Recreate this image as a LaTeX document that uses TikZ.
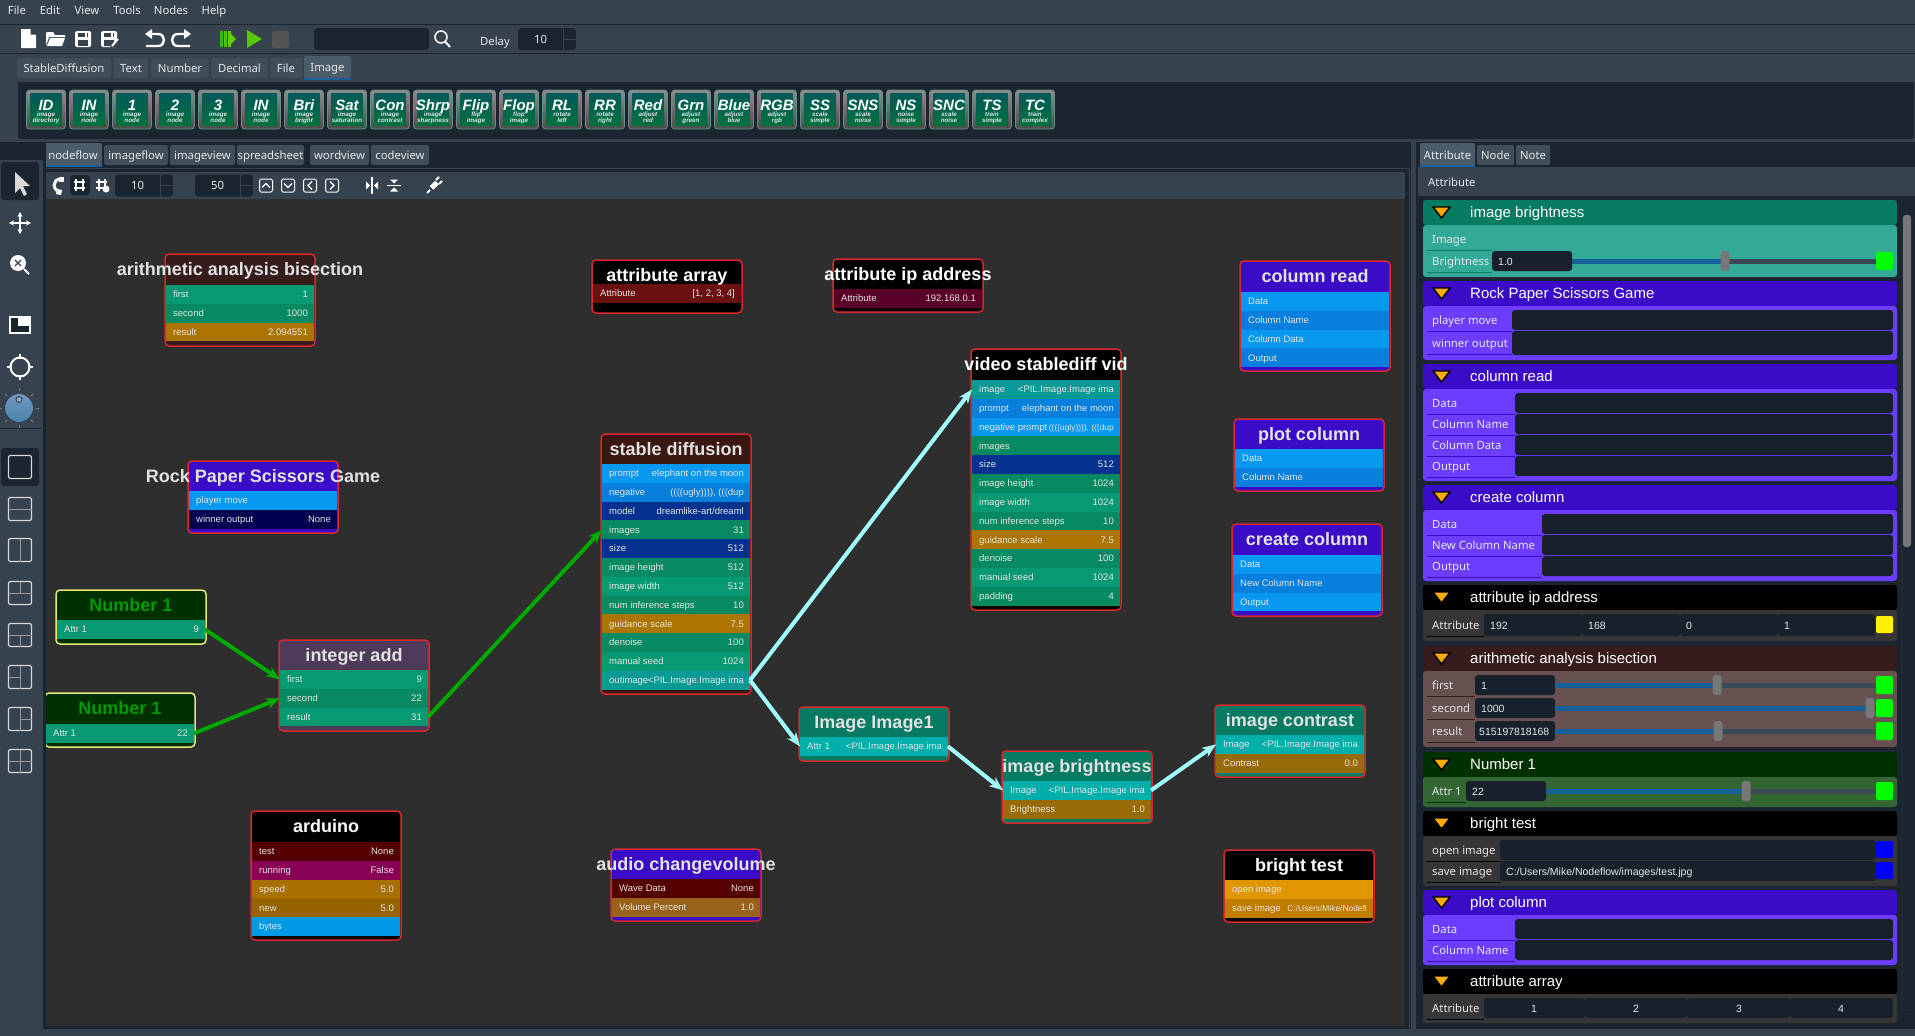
\documentclass[tikz,border=0pt]{standalone}
\usepackage{fontspec}
\setmainfont{Liberation Sans}
\newfontfamily\uif{Noto Sans}
\usetikzlibrary{arrows.meta,calc}
\definecolor{uibg}{HTML}{36434F}
\definecolor{uidk}{HTML}{1A252F}
\definecolor{uitxt}{HTML}{E4E8EC}
\definecolor{uiact}{HTML}{4C5B68}
\definecolor{uiblu}{HTML}{1A5F9E}
\definecolor{canv}{HTML}{2E2E2E}
\definecolor{bred}{HTML}{D9282E}
\definecolor{numyel}{HTML}{E8E878}
\definecolor{hTeal}{HTML}{077A62}
\definecolor{hPur}{HTML}{3A0CC8}
\definecolor{hBrn}{HTML}{361C1C}
\definecolor{hSd}{HTML}{3A1710}
\definecolor{hNum}{HTML}{003000}
\definecolor{hAdd}{HTML}{503A5A}
\definecolor{numt}{HTML}{009A00}
\definecolor{ttl}{HTML}{E2E2E2}
\definecolor{rG}{HTML}{079A72}
\definecolor{rGd}{HTML}{078A62}
\definecolor{rO}{HTML}{AC7500}
\definecolor{rB}{HTML}{0898F0}
\definecolor{rBd}{HTML}{0680DC}
\definecolor{rNv}{HTML}{05328E}
\definecolor{rDk}{HTML}{000050}
\definecolor{rTe}{HTML}{0A9A96}
\definecolor{rCy}{HTML}{00AEAA}
\definecolor{rOd}{HTML}{976C08}
\definecolor{rMar}{HTML}{550000}
\definecolor{rMag}{HTML}{880055}
\definecolor{rAr}{HTML}{A87000}
\definecolor{rArd}{HTML}{976300}
\definecolor{rByt}{HTML}{0099E5}
\definecolor{rAa}{HTML}{6A1010}
\definecolor{rIp}{HTML}{5A0028}
\definecolor{rVol}{HTML}{98621A}
\definecolor{rOp}{HTML}{E09600}
\definecolor{rSv}{HTML}{C07C00}
\definecolor{cong}{HTML}{00A800}
\definecolor{conc}{HTML}{A0FFFF}
\definecolor{pTeal}{HTML}{33AA96}
\definecolor{pPur}{HTML}{6C3CFF}
\definecolor{pGr}{HTML}{363636}
\definecolor{pBr}{HTML}{665050}
\definecolor{pNum}{HTML}{336633}
\definecolor{inpc}{HTML}{17202B}
\definecolor{trio}{HTML}{FFAA00}
\definecolor{trk}{HTML}{3A4A55}
\definecolor{sldb}{HTML}{146298}
\definecolor{hnd}{HTML}{777777}
\definecolor{knob}{HTML}{5A85B5}
\tikzset{
  uil/.style={inner sep=0pt,anchor=base west,text=uitxt,font=\uif\fontsize{11.3}{14}\selectfont},
  uic/.style={inner sep=0pt,anchor=base,text=uitxt,font=\uif\fontsize{11.3}{14}\selectfont},
  vall/.style={inner sep=0pt,anchor=base west,text=uitxt,font=\fontsize{10.5}{12}\selectfont},
  valc/.style={inner sep=0pt,anchor=base,text=uitxt,font=\fontsize{10.5}{12}\selectfont},
  sechd/.style={inner sep=0pt,anchor=base west,text=white,font=\fontsize{15}{17}\selectfont},
  plab/.style={inner sep=0pt,anchor=base west,text=uitxt,font=\uif\fontsize{11.3}{14}\selectfont},
  rowbx/.style={inner sep=0pt,outer sep=0pt,anchor=north west,minimum width=148pt,minimum height=18.8pt},
  rowl/.style={inner sep=0pt,anchor=base west,text=white!90!black,font=\fontsize{9.5}{12}\selectfont},
  rowr/.style={inner sep=0pt,anchor=base east,text=white!90!black,font=\fontsize{9.5}{12}\selectfont},
  gttl/.style={inner sep=0pt,anchor=base,font=\bfseries\fontsize{18}{20}\selectfont},
  gbox/.style={inner sep=0pt,outer sep=0pt,anchor=north west,minimum width=150pt,rounded corners=4pt},
  conG/.style={draw=cong,line width=4pt,-{Stealth[length=14pt,width=11pt]}},
  conC/.style={draw=conc,line width=4pt,-{Stealth[length=14pt,width=11pt]}},
  btnbig/.style={inner sep=0pt,anchor=base,text=white,font=\bfseries\itshape\fontsize{15}{16}\selectfont},
  btnsm/.style={inner sep=0pt,anchor=base,text=white!90!black,font=\bfseries\itshape\fontsize{6.3}{7}\selectfont},
  ico/.style={white,line width=1.3pt},
}
\newcount\nn
\newcommand{\txt}[4]{\global\advance\nn by 1 \node[#1] (tx\the\nn) at (#2,#3) {#4}}
\def\mc{,}
\def\sls{/}
\def\gbd{bred}
\newcommand{\sqz}[1]{{\fontsize{8.4}{10}\selectfont #1}}
% name,x,y,h,T,header,titlecolor,title,rows
\newcommand{\gnode}[9]{%
  \node[gbox,fill=#6,minimum height=#4pt] (#1) at (#2,#3) {};
  \foreach \rc/\rl/\rv [count=\ri] in {#9}{%
    \pgfmathsetmacro\ry{#3+#5+(\ri-1)*18.8}
    \node[rowbx,fill=\rc] (#1-\ri) at (#2+1,\ry) {};
    \node[rowl] (#1-\ri-l) at (#2+8,\ry+12.6) {\rl};
    \node[rowr] (#1-\ri-r) at (#2+143,\ry+12.6) {\rv};
  }
  \draw[\gbd,line width=1.5pt,rounded corners=4pt] (#1.north west) rectangle (#1.south east);
  \node[gttl,text=#7] (#1-t) at (#2+75,#3+21) {#8};
}
\newcommand{\pnlsec}[5]{% y,hdr,body,bottom,title
  \fill[#2,rounded corners=3pt] (1423,#1) rectangle (1897,#1+25);
  \fill[#3,rounded corners=3pt] (1423,#1+25) rectangle (1897,#4);
  \draw[fill=trio,draw=black,line width=1.4pt] (1433,#1+7) -- (1450,#1+7) -- (1441.5,#1+18) -- cycle;
  \txt{sechd}{1470}{#1+17.5}{#5};
}
\newcommand{\plb}[4]{% yc,text,xend,linecolor
  \txt{plab}{1432}{#1+3.5}{#2};
  \draw[#4,line width=.8pt] (1427,#1+10) -- (#3,#1+10);
}
\newcommand{\pinput}[4]{\fill[inpc,rounded corners=3pt] (#1,#3) rectangle (#2,#4);}
\newcommand{\pslide}[4]{% x1,hx,yc,squarecolor
  \fill[trk] (#1,#3-2.5) rectangle (1876,#3+2.5);
  \fill[sldb] (#1,#3-2.5) rectangle (#2,#3+2.5);
  \fill[hnd,rounded corners=3pt] (#2-4.5,#3-10) rectangle (#2+4.5,#3+10);
  \fill[#4,rounded corners=2pt] (1876,#3-9) rectangle (1893,#3+9);
}
\newcommand{\layicon}[2]{%
  \draw[white!85!black,line width=1.2pt,rounded corners=2pt] (8.5,#1-11.5) rectangle (31.5,#1+11.5);
  \foreach \xa/\ya/\xb/\yb in {#2}{\draw[white!60!black,line width=1pt] (\xa,#1+\ya) -- (\xb,#1+\yb);}
}
\newcommand{\spin}[5]{% x1,x2,sepx,yc,text
  \fill[uidk,rounded corners=3pt] (#1,#4-11) rectangle (#2,#4+11);
  \draw[uibg,line width=1pt] (#3,#4-11) -- (#3,#4+11) (#3,#4) -- (#2,#4);
  \pgfmathsetmacro\tmx{(#1+#3)/2}
  \txt{uic}{\tmx}{#4+4}{#5};
}
\newcommand{\tabb}[6]{% x1,x2,y1,y2,color,text
  \fill[#5,rounded corners=2pt] (#1,#3) rectangle (#2,#4);
  \pgfmathsetmacro\tmx{(#1+#2)/2}
  \pgfmathsetmacro\tmy{(#3+#4)/2+4}
  \txt{uic}{\tmx}{\tmy}{#6};
}
\newcommand{\chev}[2]{\draw[ico,line width=1pt,rounded corners=1.5pt] (#1-6.5,179) rectangle (#1+6.5,192); \draw[ico,line width=1.1pt] #2;}
\newcommand{\floppy}[1]{%
  \fill[white,rounded corners=1.5pt] (#1,31) rectangle (#1+16,47);
  \fill[uibg] (#1+3,32.5) rectangle (#1+13,37);
  \fill[uibg] (#1+3,40) rectangle (#1+13,45.5);
  \fill[white] (#1+9.5,33) rectangle (#1+12,36.5);
}
\begin{document}
\begin{tikzpicture}[x=1pt,y=-1pt]
\useasboundingbox (0,0) rectangle (1915,1036);
\fill[uibg] (0,0) rectangle (1915,1036);
% separators
\fill[uidk] (0,24) rectangle (1915,25);
\fill[uidk] (0,53) rectangle (1915,54);
% dark bodies
\fill[uidk] (0,142) rectangle (1915,1029);
\fill[uibg] (0,139) rectangle (1915,142);
\fill[uidk,rounded corners=2pt] (18,82) rectangle (1914,139);
% menu
\txt{uic}{17}{14}{File};
\txt{uic}{50}{14}{Edit};
\txt{uic}{87}{14}{View};
\txt{uic}{127}{14}{Tools};
\txt{uic}{171}{14}{Nodes};
\txt{uic}{214}{14}{Help};
% file toolbar icons
\fill[white] (21,29) -- (30,29) -- (36,35) -- (36,48) -- (21,48) -- cycle;
\fill[uibg] (30.5,29) -- (30.5,34.5) -- (36,34.5) -- cycle;
\fill[white] (46,33) -- (46,46) -- (49,37) -- (65,37) -- (65,35) -- (55,35) -- (53,32) -- (47,32) -- cycle;
\fill[white] (50,38) -- (65,38) -- (62,46) -- (47,46) -- cycle;
\floppy{75}
\floppy{101}
\fill[uibg] (110,47) -- (120,36) -- (120,47) -- cycle;
\draw[white,line width=2pt] (112,46) -- (118,39);
\draw[white,line width=2.4pt] (151,34) -- (158,34) .. controls (166,34) and (166,46) .. (158,46) -- (146,46);
\fill[white] (145,34) -- (152,29) -- (152,39) -- cycle;
\draw[white,line width=2.4pt] (185,34) -- (178,34) .. controls (170,34) and (170,46) .. (178,46) -- (190,46);
\fill[white] (191,34) -- (184,29) -- (184,39) -- cycle;
\fill[cong!80!yellow] (220,31) rectangle (222.5,47);
\fill[cong!70!yellow] (224,31) rectangle (226.5,47);
\fill[cong!60!yellow] (228,31) rectangle (230.5,47);
\fill[cong!60!yellow] (231,34) -- (236,39) -- (231,44) -- cycle;
\fill[cong!65!yellow] (247,30) -- (262,39) -- (247,48) -- cycle;
\fill[white!33!black,rounded corners=2pt] (272,31) rectangle (289,48);
\fill[uidk,rounded corners=3pt] (314,28) rectangle (429,50);
\draw[white,line width=1.5pt] (441,37) circle[radius=6pt];
\draw[white,line width=2pt] (445.5,42) -- (450,47);
\txt{uic}{495}{45}{Delay};
\spin{518}{576}{563}{39}{10}
% category tabs
\tabb{17}{111}{58}{78}{uiact!45!uibg}{StableDiffusion}
\tabb{114}{148}{58}{78}{uiact!45!uibg}{Text}
\tabb{151}{209}{58}{78}{uiact!45!uibg}{Number}
\tabb{211}{268}{58}{78}{uiact!45!uibg}{Decimal}
\tabb{270}{302}{58}{78}{uiact!45!uibg}{File}
\tabb{304}{351}{56}{78}{uiact}{Image}
\fill[uiblu] (304,78) rectangle (351,80);
% buttons
\foreach \lab/\aa/\bb [count=\i] in {ID/image/directory,IN/image/node,1/image/node,2/image/node,3/image/node,IN/image/node,Bri/image/bright,Sat/image/saturation,Con/image/contrast,Shrp/image/sharpness,Flip/flip/image,Flop/flop/image,RL/rotate/left,RR/rotate/right,Red/adjust/red,Grn/adjust/green,Blue/adjust/blue,RGB/adjust/rgb,SS/scale/simple,SNS/scale/noise,NS/noise/simple,SNC/scale/noise,TS/train/simple,TC/train/complex}{
  \pgfmathsetmacro\bx{26.5+43*(\i-1)}
  \draw[draw=black!50!teal!60!white,top color=white!55!black,bottom color=black!70!white,rounded corners=3pt,line width=.8pt] (\bx,90) rectangle (\bx+39,129);
  \fill[top color=teal!70!black,bottom color=teal!60!black!80!green] (\bx+4,93.5) rectangle (\bx+35,125.5);
  \txt{btnbig}{\bx+19.5}{110}{\lab};
  \txt{btnsm}{\bx+19.5}{116.5}{\aa};
  \txt{btnsm}{\bx+19.5}{122.5}{\bb};
}
% view tabs
\tabb{44}{102}{143}{167}{uiact}{nodeflow}
\fill[uiblu] (44,165) rectangle (102,167);
\tabb{104}{168}{145}{165}{uiact!45!uibg}{imageflow}
\tabb{170}{235}{145}{165}{uiact!45!uibg}{imageview}
\tabb{237}{304}{145}{165}{uiact!45!uibg}{spreadsheet}
\tabb{310}{369}{145}{165}{uiact!45!uibg}{wordview}
\tabb{371}{429}{145}{165}{uiact!45!uibg}{codeview}
\draw[uibg,line width=.8pt] (43,168) -- (1409,168) -- (1409,1029);
% canvas toolbar
\fill[uibg,rounded corners=2pt] (46,172) rectangle (1405,199);
\draw[white,line width=3pt] (61,179) .. controls (52,179) and (52,190) .. (60,192);
\fill[white] (59,177) -- (64,177) -- (64,182) -- (59,182) -- cycle;
\fill[white] (57,189) -- (62,190) -- (61,195) -- (56,194) -- cycle;
\fill[uidk,rounded corners=3pt] (70,175) rectangle (90,195);
\draw[white,line width=1.7pt] (76,179) -- (76,191) (83,179) -- (83,191) (74,182) -- (85,182) (74,188) -- (85,188);
\draw[white,line width=1.7pt] (99,179) -- (99,191) (105,179) -- (105,191) (96,182) -- (107,182) (96,188) -- (107,188);
\fill[white] (106,189) circle[radius=3.5pt];
\spin{115}{173}{160}{185.5}{10}
\spin{195}{253}{240}{185.5}{50}
\chev{266}{(262,187.5) -- (266,183.5) -- (270,187.5)}
\chev{288}{(284,183.5) -- (288,187.5) -- (292,183.5)}
\chev{310}{(312,181.5) -- (308,185.5) -- (312,189.5)}
\chev{332}{(330,181.5) -- (334,185.5) -- (330,189.5)}
\draw[white,line width=1.2pt] (372,177) -- (372,194);
\fill[white] (370,185.5) -- (366,181.5) -- (366,189.5) -- cycle;
\fill[white] (374,185.5) -- (378,181.5) -- (378,189.5) -- cycle;
\draw[white,line width=1.2pt] (387,185.5) -- (401,185.5);
\fill[white] (394,183.5) -- (390,179.5) -- (398,179.5) -- cycle;
\fill[white] (394,187.5) -- (390,191.5) -- (398,191.5) -- cycle;
\draw[white,line width=5pt] (431.5,188) -- (437,182.5);
\draw[white,line width=1.8pt] (430,190) -- (427,193) (436,180) -- (439,177) (439,184) -- (442,181);
% canvas
\fill[canv] (46,199) rectangle (1405,1026);
% graph nodes
\gnode{arith}{165}{254}{92}{31}{hBrn}{ttl}{arithmetic analysis bisection}{rG/first/1,rGd/second/1000,rO/result/2.094551}
\gnode{rock}{188}{461}{72}{30}{hPur}{ttl}{Rock Paper Scissors Game}{rB/player move/{},rDk/winner output/None}
\def\gbd{numyel}
\gnode{numa}{56}{590}{54}{30}{hNum}{numt}{Number 1}{rG/Attr 1/9}
\gnode{numb}{45}{693}{54}{31}{hNum}{numt}{Number 1}{rG/Attr 1/22}
\def\gbd{bred}
\gnode{add}{279}{640}{91}{30}{hAdd}{ttl}{integer add}{rG/first/9,rGd/second/22,rG/result/31}
\gnode{ard}{251}{811}{129}{31}{black}{white}{arduino}{rMar/test/None,rMag/running/False,rAr/speed/5.0,rArd/new/5.0,rByt/bytes/{}}
\gnode{arr}{592}{260}{53}{24}{black}{white}{attribute array}{rAa/Attribute/[1\mc\ 2\mc\ 3\mc\ 4]}
\gnode{ip}{833}{259}{53}{30}{black}{white}{attribute ip address}{rIp/Attribute/192.168.0.1}
\gnode{sd}{601}{434}{260}{30}{hSd}{ttl}{stable diffusion}{rB/prompt/elephant on the moon,rBd/negative/((((ugly))))\mc\ (((dup,rNv/model/dreamlike-art\sls dreaml,rGd/images/31,rNv/size/512,rGd/image height/512,rG/image width/512,rGd/num inference steps/10,rO/guidance scale/7.5,rGd/denoise/100,rG/manual seed/1024,rTe/outimage/<PIL.Image.Image ima}
\gnode{vid}{971}{349}{261}{31}{black}{white}{video stablediff vid}{rTe/image/<PIL.Image.Image ima,rBd/prompt/elephant on the moon,rB/negative prompt/\sqz{((((ugly))))\mc\ (((dup},rGd/images/{},rNv/size/512,rGd/image height/1024,rG/image width/1024,rGd/num inference steps/10,rO/guidance scale/7.5,rGd/denoise/100,rG/manual seed/1024,rGd/padding/4}
\gnode{colr}{1240}{261}{110}{31}{hPur}{ttl}{column read}{rB/Data/{},rBd/Column Name/{},rB/Column Data/{},rBd/Output/{}}
\gnode{plot}{1234}{419}{72}{30}{hPur}{ttl}{plot column}{rB/Data/{},rBd/Column Name/{}}
\gnode{crea}{1232}{524}{92}{31}{hPur}{ttl}{create column}{rB/Data/{},rBd/New Column Name/{},rB/Output/{}}
\gnode{img}{799}{707}{54}{30}{hTeal}{ttl}{Image Image1}{rCy/Attr 1/<PIL.Image.Image ima}
\gnode{bri}{1002}{751}{72}{30}{hTeal}{ttl}{image brightness}{rCy/Image/<PIL.Image.Image ima,rOd/Brightness/1.0}
\gnode{con}{1215}{705}{72}{30}{hTeal}{ttl}{image contrast}{rCy/Image/<PIL.Image.Image ima,rOd/Contrast/0.0}
\gnode{aud}{611}{849}{72}{30}{hPur}{ttl}{audio changevolume}{rMar/Wave Data/None,rVol/Volume Percent/1.0}
\gnode{brt}{1224}{850}{72}{30}{black}{white}{bright test}{rOp/open image/{},rSv/save image/\sqz{C:\sls Users\sls Mike\sls Nodefl}}
% connectors
\draw[conG] (numa-1.east) -- (add-1.west);
\draw[conG] (numb-1.east) -- (add-2.west);
\draw[conG] (add-3.east) -- (sd-4.west);
\draw[conC] (sd-12.east) -- (vid-1.west);
\draw[conC] (sd-12.east) -- (img-1.west);
\draw[conC] (img-1.east) -- (bri-1.west);
\draw[conC] (bri-1.east) -- (con-1.west);
% left tool bar
\fill[uidk] (0,142) rectangle (46,1029);
\fill[uibg] (0,160) rectangle (43,1029);
\fill[uidk,rounded corners=3pt] (1,162) rectangle (39,200);
\fill[white!85!black] (15,172) -- (15,193) -- (20,188) -- (24,196) -- (27,194) -- (23,186) -- (30,186) -- cycle;
\draw[white,line width=1.4pt,{Stealth[length=5pt,width=5pt]}-{Stealth[length=5pt,width=5pt]}] (9,223) -- (31,223);
\draw[white,line width=1.4pt,{Stealth[length=5pt,width=5pt]}-{Stealth[length=5pt,width=5pt]}] (20,212) -- (20,234);
\fill[white] (18,263) circle[radius=8pt];
\draw[uibg,line width=1.3pt] (15,260) -- (21,266) (21,260) -- (15,266);
\draw[white,line width=2pt] (24,269) -- (29,274);
\draw[white,fill=uidk,line width=1.4pt] (10,317) rectangle (30,333);
\fill[white] (18,317) rectangle (30,326);
\draw[white,line width=2pt] (20,367) circle[radius=9.5pt];
\draw[white,line width=2pt] (20,354) -- (20,359) (20,375) -- (20,380) (7,367) -- (12,367) (28,367) -- (33,367);
\foreach \aa in {0,45,...,315}{\draw[white!50!black,line width=.8pt] ($(19,408)+(\aa:17pt)$) -- ($(19,408)+(\aa:20pt)$);}
\fill[top color=knob!85!white,bottom color=knob!80!teal] (19,408) circle[radius=14pt];
\draw[uibg,fill=knob!70!white,line width=1pt] (19,399.5) circle[radius=3pt];
\fill[uidk] (0,428) rectangle (42,429);
\fill[uidk,rounded corners=3pt] (1,448) rectangle (39,486);
\layicon{467}{}
\layicon{509}{8.5/0/31.5/0}
\layicon{550}{20/-11.5/20/11.5}
\layicon{593}{8.5/0/31.5/0,20/-11.5/20/0}
\layicon{635}{8.5/0/31.5/0,20/0/20/11.5}
\layicon{677}{20/-11.5/20/11.5,8.5/0/20/0}
\layicon{719}{20/-11.5/20/11.5,20/0/31.5/0}
\layicon{761}{20/-11.5/20/11.5,8.5/0/31.5/0}
% right panel
\fill[uibg] (1411,142) rectangle (1416,1029);
\fill[uidk] (1416,142) rectangle (1915,1029);
\tabb{1420}{1475}{143}{167}{uiact}{Attribute}
\fill[uiblu] (1420,165) rectangle (1475,167);
\tabb{1477}{1514}{145}{165}{uiact!45!uibg}{Node}
\tabb{1516}{1550}{145}{165}{uiact!45!uibg}{Note}
\fill[uibg] (1418,167) rectangle (1915,196);
\txt{uil}{1428}{186}{Attribute};
\draw[uidk!70!uibg,line width=1pt,rounded corners=3pt] (1902,215) rectangle (1913,1010);
\fill[hnd,rounded corners=3pt] (1903,215) rectangle (1911,547);
% image brightness
\pnlsec{200}{hTeal}{pTeal}{277}{image brightness}
\plb{240}{Image}{1492}{hTeal}
\plb{262}{Brightness}{1492}{hTeal}
\pinput{1492}{1572}{251}{271}
\txt{vall}{1498}{265}{1.0};
\pslide{1572}{1725}{261}{green}
% rock
\pnlsec{281}{hPur}{pPur}{360}{Rock Paper Scissors Game}
\plb{321}{player move}{1512}{hPur}
\plb{344}{winner output}{1512}{hPur}
\pinput{1512}{1893}{310}{330}
\pinput{1512}{1893}{331}{355}
% column read
\pnlsec{364}{hPur}{pPur}{481}{column read}
\plb{404}{Data}{1515}{hPur}
\plb{425}{Column Name}{1515}{hPur}
\plb{446}{Column Data}{1515}{hPur}
\plb{467}{Output}{1515}{hPur}
\pinput{1515}{1893}{393}{413}
\pinput{1515}{1893}{414}{434}
\pinput{1515}{1893}{435}{455}
\pinput{1515}{1893}{456}{476}
% create column
\pnlsec{485}{hPur}{pPur}{581}{create column}
\plb{525}{Data}{1542}{hPur}
\plb{546}{New Column Name}{1542}{hPur}
\plb{567}{Output}{1542}{hPur}
\pinput{1542}{1893}{514}{534}
\pinput{1542}{1893}{535}{555}
\pinput{1542}{1893}{556}{576}
% attribute ip
\pnlsec{585}{black}{pGr}{641}{attribute ip address}
\plb{626}{Attribute}{1484}{black}
\pinput{1484}{1582}{614}{636}
\pinput{1582}{1680}{614}{636}
\pinput{1680}{1778}{614}{636}
\pinput{1778}{1875}{614}{636}
\txt{vall}{1490}{629}{192};
\txt{vall}{1588}{629}{168};
\txt{vall}{1686}{629}{0};
\txt{vall}{1784}{629}{1};
\fill[yellow,rounded corners=2pt] (1876,616) rectangle (1893,633);
% arithmetic
\pnlsec{646}{hBrn}{pBr}{747}{arithmetic analysis bisection}
\plb{686}{first}{1475}{hBrn}
\plb{709}{second}{1475}{hBrn}
\plb{732}{result}{1475}{hBrn}
\pinput{1475}{1555}{675}{695}
\pinput{1475}{1555}{698}{718}
\pinput{1475}{1555}{721}{741}
\txt{vall}{1481}{689}{1};
\txt{vall}{1481}{712}{1000};
\txt{vall}{1479}{735}{515197818168};
\pslide{1555}{1717}{685}{green}
\pslide{1555}{1870}{708}{green}
\pslide{1555}{1718}{731}{green}
% number
\pnlsec{752}{hNum}{pNum}{807}{Number 1}
\plb{792}{Attr 1}{1466}{hNum}
\pinput{1466}{1546}{781}{801}
\txt{vall}{1472}{795}{22};
\pslide{1546}{1746}{791}{green}
% bright test
\pnlsec{811}{black}{pGr}{886}{bright test}
\plb{851}{open image}{1500}{black}
\plb{872}{save image}{1500}{black}
\pinput{1500}{1876}{840}{860}
\pinput{1500}{1876}{861}{881}
\txt{vall}{1506}{875}{C:/Users/Mike/Nodeflow/images/test.jpg};
\fill[blue,rounded corners=2pt] (1876,841) rectangle (1893,858);
\fill[blue,rounded corners=2pt] (1876,862) rectangle (1893,879);
% plot column
\pnlsec{890}{hPur}{pPur}{965}{plot column}
\plb{930}{Data}{1515}{hPur}
\plb{951}{Column Name}{1515}{hPur}
\pinput{1515}{1893}{919}{939}
\pinput{1515}{1893}{940}{960}
% attribute array
\pnlsec{969}{black}{pGr}{1023}{attribute array}
\plb{1009}{Attribute}{1484}{black}
\pinput{1484}{1585}{998}{1018}
\pinput{1585}{1687}{998}{1018}
\pinput{1687}{1790}{998}{1018}
\pinput{1790}{1893}{998}{1018}
\txt{valc}{1534}{1012}{1};
\txt{valc}{1636}{1012}{2};
\txt{valc}{1739}{1012}{3};
\txt{valc}{1841}{1012}{4};
\end{tikzpicture}
\end{document}
